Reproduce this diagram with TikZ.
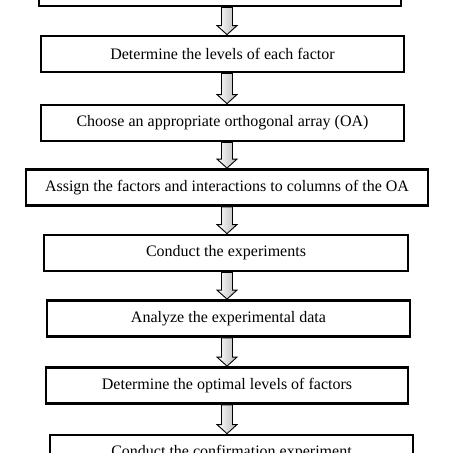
\documentclass[tikz,border=0pt]{standalone}
\usepackage{fontspec}
\setmainfont{Liberation Serif}
\usepackage{tikz}
\usetikzlibrary{calc}
\tikzset{
	stepbox/.style={rectangle,draw,line width=2.8pt,minimum height=36pt,
		inner sep=0pt,font=\fontsize{16}{18}\selectfont},
	blockarrow/.style={draw=black,line width=0.9pt,left color=white,right color=gray!55}
}
\newcommand{\flowarrow}[2]{%
	\path (#1.south -| axis) coordinate (s) (#2.north -| axis) coordinate (e);
	\draw[blockarrow] ($(s)+(-5.5,0)$) -- ($(s)+(5.5,0)$) -- ($(e)+(5.5,-9)$)
		-- ($(e)+(10,-9)$) -- (e) -- ($(e)+(-10,-9)$) -- ($(e)+(-5.5,-9)$) -- cycle;
}

\begin{document}
\begin{tikzpicture}[x=1pt,y=-1pt]
	\useasboundingbox (0,0) rectangle (453,453);
	\clip (0,0) rectangle (453,453);
	\coordinate (axis) at (227,0);
	% steps
	\node [stepbox,minimum width=362pt] (0) at (220,-12) {};
	\node [stepbox,minimum width=363pt] (1) at (222.5,54) {Determine the levels of each factor};
	\node [stepbox,minimum width=363pt] (2) at (222.5,123) {Choose an appropriate orthogonal array (OA)};
	\node [stepbox,minimum width=402pt] (3) at (227,187.5) {Assign the factors and interactions to columns of the OA};
	\node [stepbox,minimum width=364pt] (4) at (226,253) {Conduct the experiments};
	\node [stepbox,minimum width=363pt] (5) at (228.5,318.5) {Analyze the experimental data};
	\node [stepbox,minimum width=362pt] (6) at (227,385.5) {Determine the optimal levels of factors};
	\node [stepbox,minimum width=363pt] (7) at (231.5,453) {Conduct the confirmation experiment};
	% arrows
	\foreach \a/\b in {0/1,1/2,2/3,3/4,4/5,5/6,6/7}{
		\flowarrow{\a}{\b}
	}
\end{tikzpicture}
\end{document}
